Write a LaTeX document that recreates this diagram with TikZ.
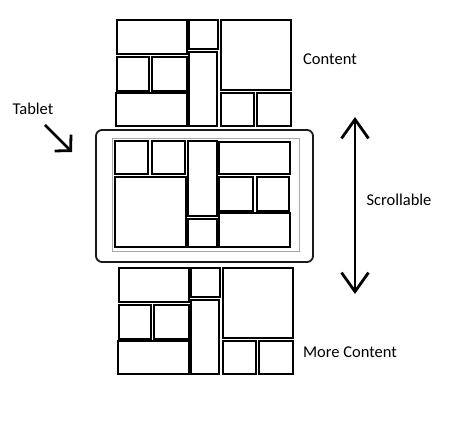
\documentclass[tikz,border=0pt]{standalone}
\usepackage{fontspec}
\setmainfont{Carlito}
\usetikzlibrary{arrows.meta,positioning}
\definecolor{frame}{HTML}{1A1A1A}
\definecolor{screen}{HTML}{A8A8A8}
\tikzset{
  tile/.style={draw=black,line width=2.2pt},
  tablet/.style={draw=frame,line width=1.8pt,rounded corners=6pt},
  screenline/.style={draw=screen,line width=1pt},
  pointer/.style={-{Straight Barb[length=11pt,width=23pt]},line width=2.8pt},
  scroll/.style={{Straight Barb[length=19pt,width=27pt]}-{Straight Barb[length=19pt,width=27pt]},line width=2.8pt},
  labeltext/.style={font=\fontsize{16.5}{20}\selectfont,inner sep=0pt}
}
% layout of the content blocks above and below the tablet
\newcommand{\contentblock}{%
  \foreach \xa/\ya/\xb/\yb in {0/0/70/34, 72/0/101/29, 104/0/174/70,
      0/37/32/71, 35/37/70/71, 72/32/100/106,
      -1/73/70/106, 104/73/137/106, 140/73/174/106}
    {\draw[tile] (\xa,\ya) rectangle (\xb,\yb);}}
\begin{document}
\begin{tikzpicture}[x=1pt,y=-1pt]
\useasboundingbox (0,0) rectangle (474,422);
% content above
\begin{scope}[shift={(117,20)}]
\contentblock
\end{scope}
% content below
\begin{scope}[shift={(119,268)}]
\contentblock
\end{scope}
% tablet with its screen
\draw[tablet] (96,130) rectangle (313,262);
\draw[screenline] (112,139) rectangle (299,252);
\foreach \xa/\ya/\xb/\yb in {115/141/148/174, 152/141/185/174, 188/141/217/216,
    219/142/290/174, 115/177/186/247, 219/177/253/211,
    257/177/289/211, 188/219/217/247, 219/213/290/247}
  {\draw[tile] (\xa,\ya) rectangle (\xb,\yb);}
% labels
\node[labeltext] (content) at (330,59) {Content};
\node[labeltext] (more) at (350,352) {More Content};
\node[labeltext] (tabletlbl) at (33,109) {Tablet};
\node[labeltext] (scrolllbl) at (399,200) {Scrollable};
% arrows
\coordinate (tabfrom) at (45,125);
\coordinate (tabto) at (72,152);
\draw[pointer] (tabfrom) -- (tabto);
\coordinate (scrolltop) at (355,117);
\coordinate (scrollbot) at (355,294);
\draw[scroll] (scrolltop) -- (scrollbot);
\end{tikzpicture}
\end{document}
